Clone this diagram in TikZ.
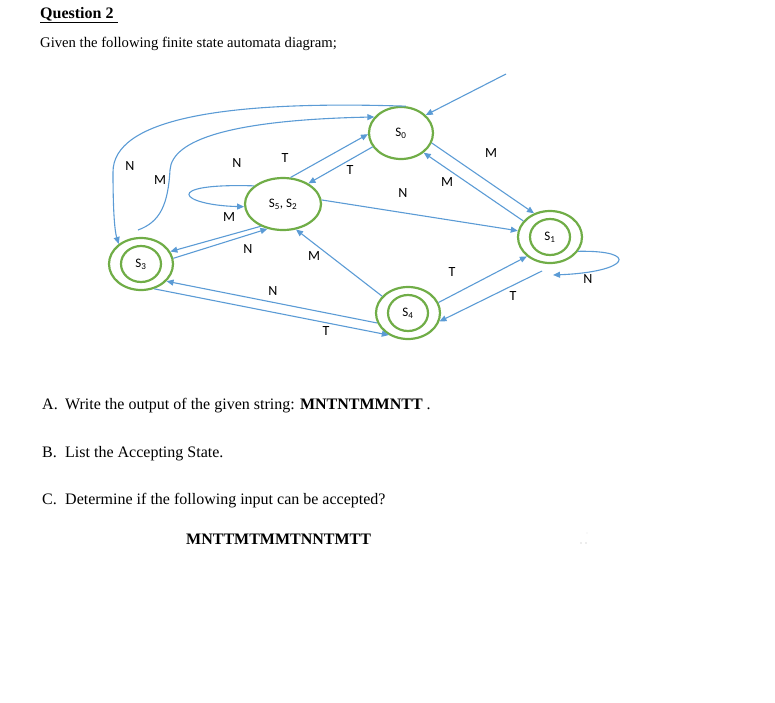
\documentclass[tikz,border=0pt]{standalone}
\usepackage{fontspec}
\setmainfont{Liberation Serif}
\newfontfamily\diagfont{Carlito}
\usetikzlibrary{shapes.geometric,arrows.meta}
\definecolor{sgreen}{HTML}{70AD47}
\definecolor{eblue}{HTML}{5B9BD5}
\begin{document}
\begin{tikzpicture}[x=1pt,y=-1pt,
  state/.style={ellipse, draw=sgreen, line width=2.2pt, minimum width=64pt, minimum height=52pt, inner sep=0pt, font=\diagfont\fontsize{13}{15}\selectfont},
  innerst/.style={ellipse, draw=sgreen, line width=2.2pt, minimum width=40pt, minimum height=36pt, inner sep=0pt, font=\diagfont\fontsize{13}{15}\selectfont},
  edge/.style={draw=eblue, line width=1.1pt, -{Triangle[length=7pt,width=6pt]}},
  lbl/.style={font=\diagfont\fontsize{14}{16}\selectfont, inner sep=0pt},
  txt/.style={anchor=base west, inner sep=0pt, font=\fontsize{16}{19}\selectfont},
  smalltxt/.style={anchor=base west, inner sep=0pt, font=\fontsize{14.67}{17}\selectfont}]
\useasboundingbox (0,0) rectangle (775,702);

% texts
\node[txt, font=\fontsize{16}{19}\selectfont\bfseries] (q) at (40,18) {\underline{Question 2\ }};
\node[smalltxt] (given) at (40,47) {Given the following finite state automata diagram;};
\node[txt] (qa) at (42,409) {A.};
\node[txt] (qat) at (65,409) {Write the output of the given string: \textbf{MNTNTMMNTT} .};
\node[txt] (qb) at (42,457) {B.};
\node[txt] (qbt) at (65,457) {List the Accepting State.};
\node[txt] (qc) at (42,504) {C.};
\node[txt] (qct) at (65,504) {Determine if the following input can be accepted?};
\node[txt, font=\fontsize{16}{19}\selectfont\bfseries] (inp) at (186,544) {MNTTMTMMTNNTMTT};
\fill[gray!60] (581,543) circle (0.6) (586,543) circle (0.6) (587,533) circle (0.4);

% states
\node[state] (s0) at (401,133) {S\textsubscript{0}};
\node[state, minimum width=76pt] (s52) at (283,204) {S\textsubscript{5}, S\textsubscript{2}};
\node[state] (s1) at (550,237) {};
\node[innerst] (s1i) at (550,237) {S\textsubscript{1}};
\node[state] (s3) at (141,264) {};
\node[innerst] (s3i) at (141,264) {S\textsubscript{3}};
\node[state] (s4) at (408,313) {};
\node[innerst] (s4i) at (408,313) {S\textsubscript{4}};

% free ends
\coordinate (start) at (506,74);
\coordinate (s1loop) at (553,275);
\coordinate (s1bot) at (542,271);
\coordinate (s3top) at (138,230);

% edges
\draw[edge] (start) -- (s0.36);
\draw[edge] (s0.-18) -- (s1.124);
\draw[edge] (s1.149) -- (s0.-41);
\draw[edge] (s52.6) -- (s1.169);
\draw[edge] (s1.-27) .. controls (640,250) and (630,272) .. (s1loop);
\draw[edge] (s4.19) -- (s1.220);
\draw[edge] (s1bot) -- (s4.-15);
\draw[edge] (s52.74) -- (s0.182);
\draw[edge] (s0.206) -- (s52.39);
\draw[edge] (s52.148) .. controls (160,183) and (180,205) .. (s52.184);
\draw[edge] (s0.80) .. controls (220,100) and (113,120) .. (113,172) .. controls (113,215) and (115,232) .. (s3.138);
\draw[edge] (s3top) .. controls (160,222) and (168,205) .. (170,170) .. controls (172,140) and (230,120) .. (s0.149);
\draw[edge] (s52.225) -- (s3.23);
\draw[edge] (s3.10) -- (s52.238);
\draw[edge] (s4.147) -- (s52.297);
\draw[edge] (s4.198) -- (s3.-34);
\draw[edge] (s3.-62) -- (s4.229);

% edge labels
\node[lbl] (l1) at (491,153) {M};
\node[lbl] (l2) at (447,182) {M};
\node[lbl] (l3) at (403,193) {N};
\node[lbl] (l4) at (588,279) {N};
\node[lbl] (l5) at (452,272) {T};
\node[lbl] (l6) at (513,296) {T};
\node[lbl] (l7) at (285,158) {T};
\node[lbl] (l8) at (350,170) {T};
\node[lbl] (l9) at (237,163) {N};
\node[lbl] (l10) at (229,217) {M};
\node[lbl] (l11) at (130,166) {N};
\node[lbl] (l12) at (160,180) {M};
\node[lbl] (l13) at (248,249) {N};
\node[lbl] (l14) at (314,256) {M};
\node[lbl] (l15) at (273,291) {N};
\node[lbl] (l16) at (326,331) {T};
\end{tikzpicture}
\end{document}
